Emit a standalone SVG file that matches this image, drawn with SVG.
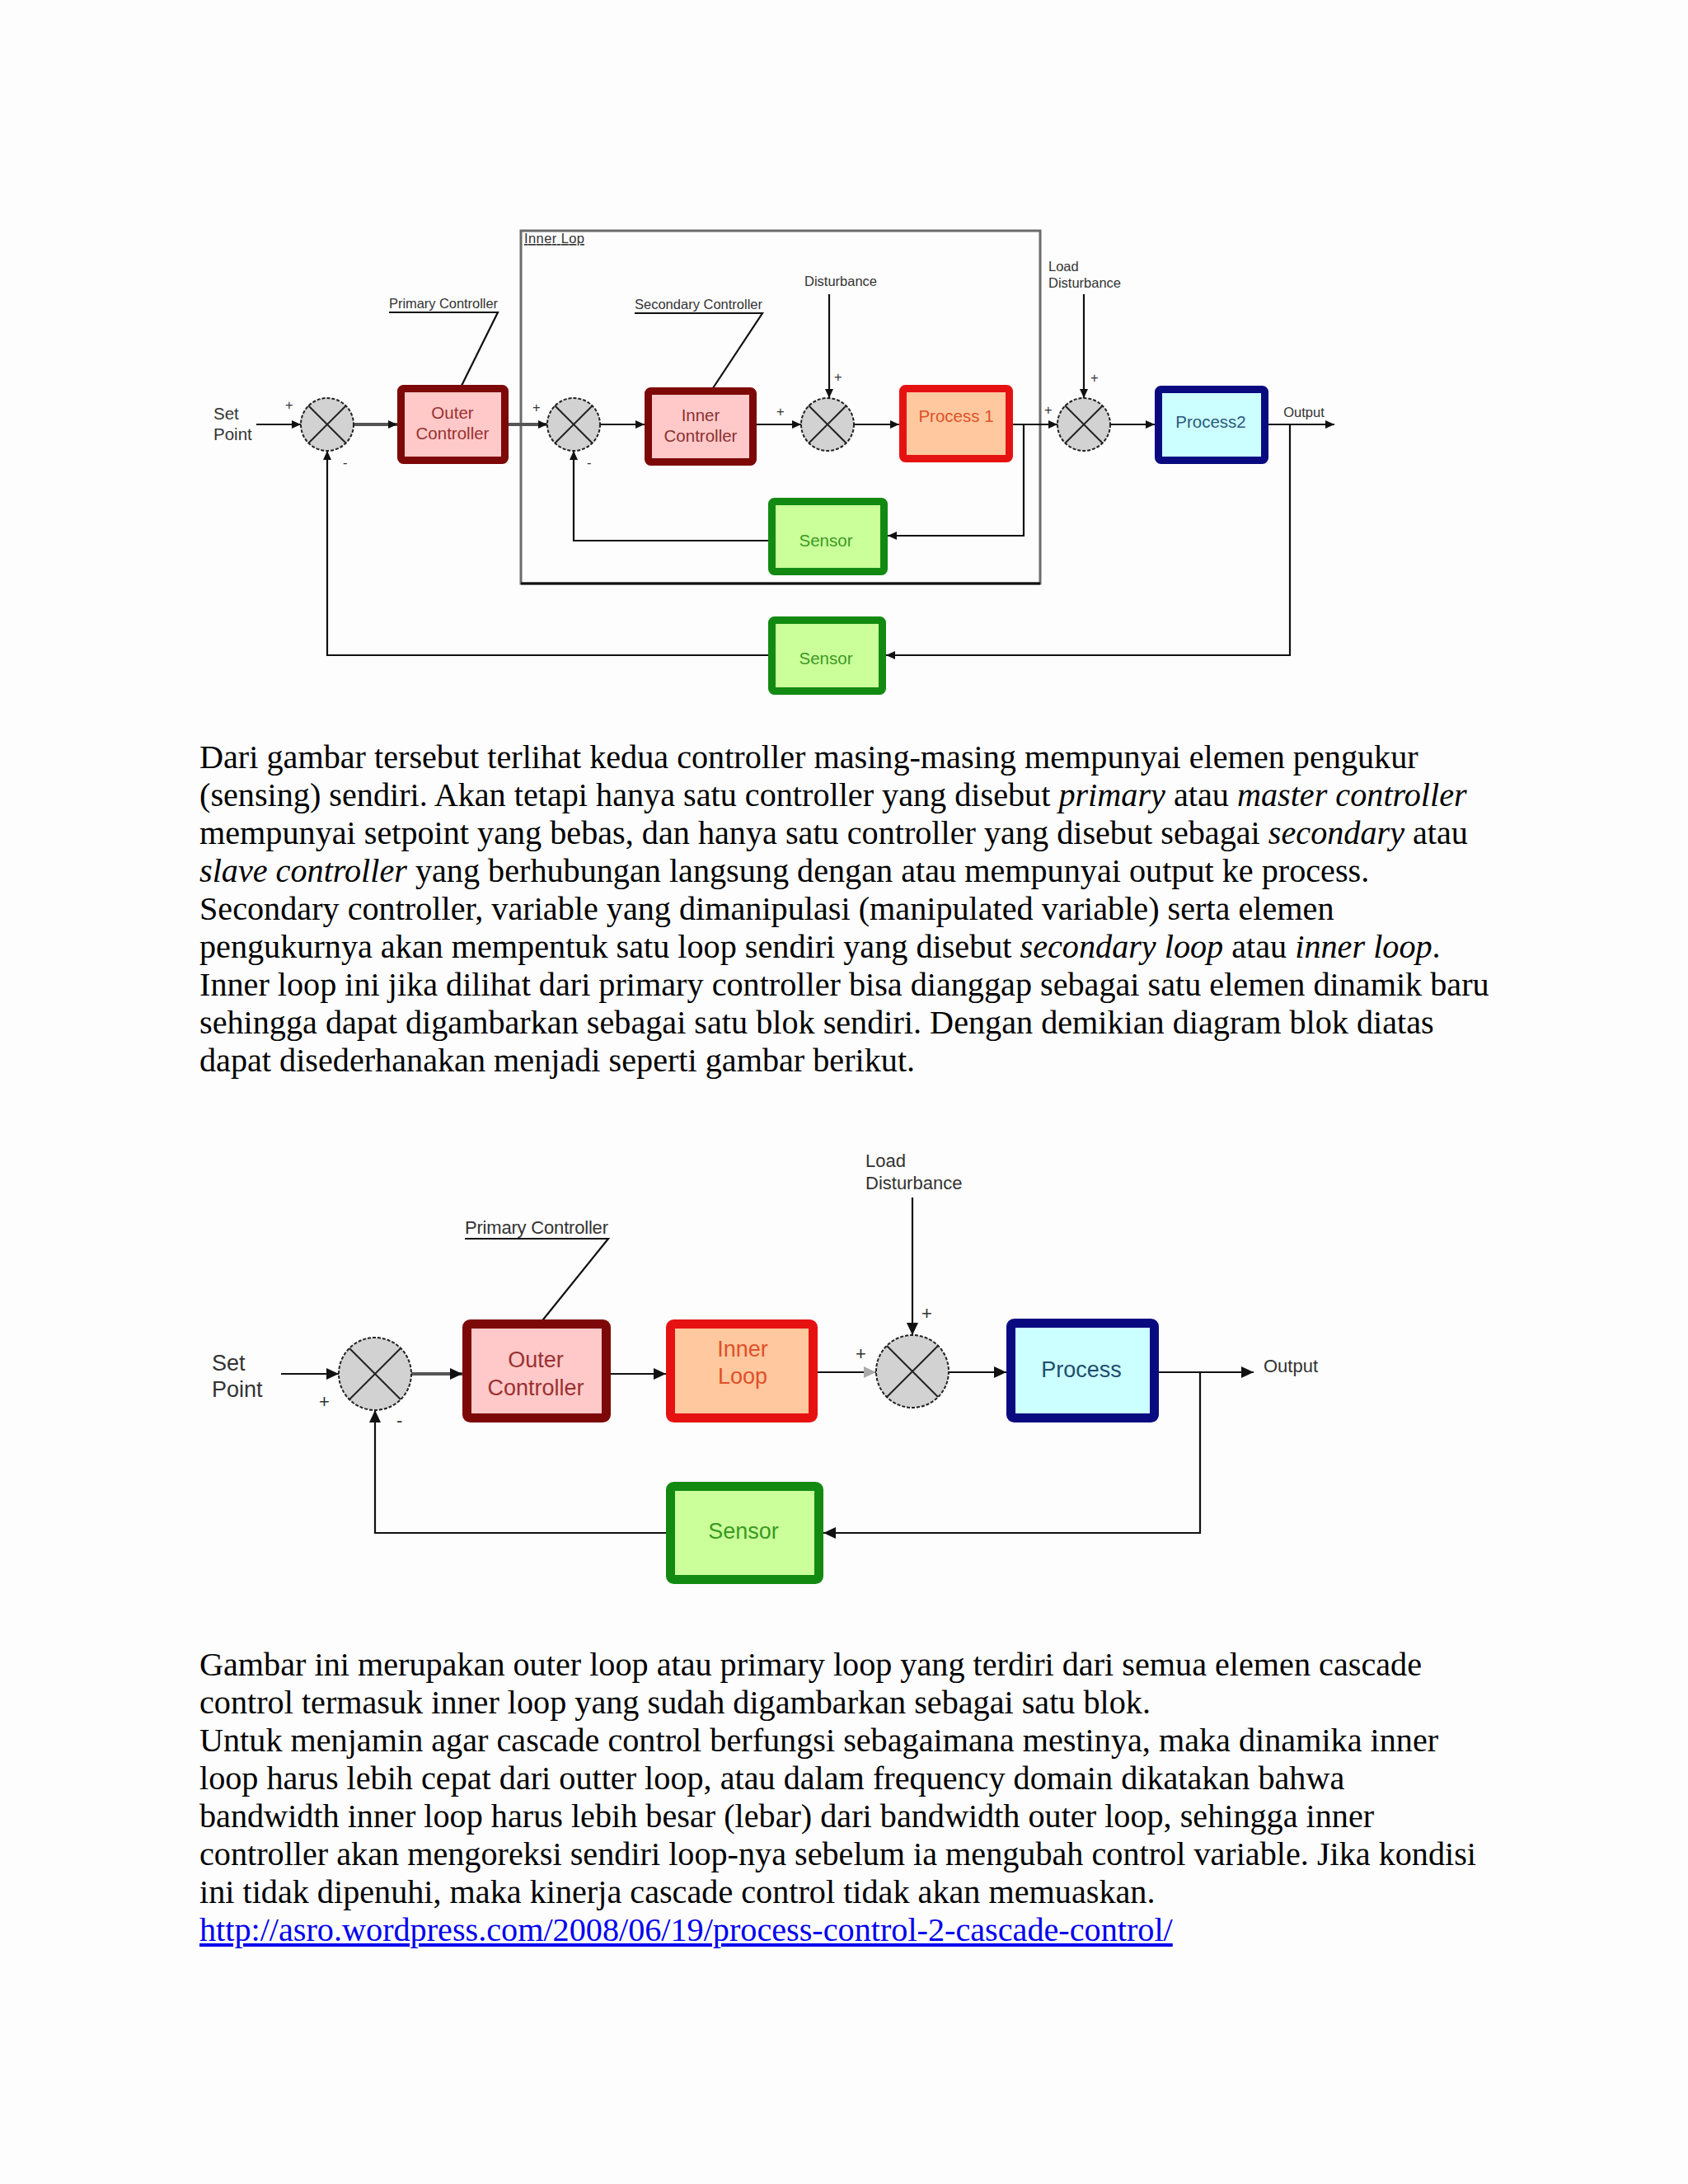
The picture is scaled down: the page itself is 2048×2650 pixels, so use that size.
<svg xmlns="http://www.w3.org/2000/svg" width="2048" height="2650" viewBox="0 0 2048 2650">
<style>
.lbl{font-family:"Liberation Sans",Arial,sans-serif;fill:#333}
.s{font-size:16.5px}
.m{font-size:20.5px}
.L{font-size:22px}
.XL{font-size:27px}
.c{text-anchor:middle}
.ln{fill:none;stroke:#111;stroke-width:2.2}
.gl{fill:none;stroke:#555;stroke-width:4}
.jn{fill:#d2d2d2;stroke:#222;stroke-width:2;stroke-dasharray:4 2}
.jx{stroke:#222;stroke-width:2}
.dr{fill:#ffc9c9;stroke:#7d0808}
.rd{fill:#ffc89e;stroke:#e61212}
.bl{fill:#ccffff;stroke:#0a0a80}
.gr{fill:#caff9a;stroke:#128a12}
.t1 rect{stroke-width:9}
.t2 rect{stroke-width:11}
.tx{font-family:"Liberation Serif","Times New Roman",serif;font-size:40.2px;fill:#000}
.i{font-style:italic}
</style>
<defs>
<marker id="a" markerUnits="userSpaceOnUse" markerWidth="11" markerHeight="10" refX="11" refY="5" orient="auto"><path d="M0,0 L11,5 L0,10 z" fill="#111"/></marker>
<marker id="b" markerUnits="userSpaceOnUse" markerWidth="15" markerHeight="14" refX="15" refY="7" orient="auto"><path d="M0,0 L15,7 L0,14 z" fill="#111"/></marker>
<marker id="bg" markerUnits="userSpaceOnUse" markerWidth="15" markerHeight="14" refX="15" refY="7" orient="auto"><path d="M0,0 L15,7 L0,14 z" fill="#aaa"/></marker>
</defs>
<rect width="2048" height="2650" fill="#fdfdfd"/>

<!-- ===== Top diagram ===== -->
<g id="innerLoopFrame">
<rect x="632" y="280" width="630" height="428" fill="none" stroke="#6c6c6c" stroke-width="3"/>
<line x1="632" y1="708" x2="1262" y2="708" stroke="#111" stroke-width="3"/>
<text class="lbl s" x="636" y="295" textLength="73" text-decoration="underline">Inner Lop</text>
</g>

<g id="top-connectors">
<path class="ln" d="M311,515 H365" marker-end="url(#a)"/>
<path class="gl" d="M429,515 H482" marker-end="url(#a)"/>
<path class="gl" d="M617,515 H664" marker-end="url(#a)"/>
<path class="ln" d="M728,515 H782" marker-end="url(#a)"/>
<path class="ln" d="M918,515 H972" marker-end="url(#a)"/>
<path class="ln" d="M1006,357 V483" marker-end="url(#a)"/>
<path class="ln" d="M1036,515 H1091" marker-end="url(#a)"/>
<path class="ln" d="M1229,515 H1283" marker-end="url(#a)"/>
<path class="ln" d="M1315,357 V483" marker-end="url(#a)"/>
<path class="ln" d="M1347,515 H1401" marker-end="url(#a)"/>
<path class="ln" d="M1539,515 H1619" marker-end="url(#a)"/>
<path class="ln" d="M1242,515 V650 H1077" stroke="#444" marker-end="url(#a)"/>
<path class="ln" d="M932,656 H696 V547" marker-end="url(#a)"/>
<path class="ln" d="M1565,515 V795 H1075" marker-end="url(#a)"/>
<path class="ln" d="M932,795 H397 V547" marker-end="url(#a)"/>
<path class="ln" d="M472,379 H604 L555,478" stroke="#333"/>
<path class="ln" d="M770,380 H925 L857,483" stroke="#333"/>
</g>

<g id="t-setpoint"><text class="lbl m" x="259" y="509">Set</text><text class="lbl m" x="259" y="534">Point</text></g>
<g id="t-primary-label"><text class="lbl s" x="472" y="374" textLength="132">Primary Controller</text></g>
<g id="t-secondary-label"><text class="lbl s" x="770" y="375" textLength="155">Secondary Controller</text></g>
<g id="t-disturbance"><text class="lbl s c" x="1020" y="347">Disturbance</text></g>
<g id="t-load"><text class="lbl s" x="1272" y="329">Load</text><text class="lbl s" x="1272" y="349">Disturbance</text></g>
<g id="t-output"><text class="lbl s c" x="1582" y="506">Output</text></g>

<g id="t-sum1"><circle class="jn" cx="397" cy="515" r="32"/><path class="jx" d="M374,492 L420,538 M420,492 L374,538"/>
<text class="lbl s" x="346" y="497">+</text><text class="lbl s" x="416" y="567">-</text></g>
<g id="t-sum2"><circle class="jn" cx="696" cy="515" r="32"/><path class="jx" d="M673,492 L719,538 M719,492 L673,538"/>
<text class="lbl s" x="646" y="500">+</text><text class="lbl s" x="712" y="567">-</text></g>
<g id="t-sum3"><circle class="jn" cx="1004" cy="515" r="32"/><path class="jx" d="M981,492 L1027,538 M1027,492 L981,538"/>
<text class="lbl s" x="942" y="505">+</text><text class="lbl s" x="1012" y="463">+</text></g>
<g id="t-sum4"><circle class="jn" cx="1315" cy="515" r="32"/><path class="jx" d="M1292,492 L1338,538 M1338,492 L1292,538"/>
<text class="lbl s" x="1267" y="503">+</text><text class="lbl s" x="1323" y="464">+</text></g>

<g id="t-outer" class="t1"><rect class="dr" x="486.5" y="471.5" width="126" height="87" rx="3"/>
<text class="lbl m c" x="549" y="508" style="fill:#9a3030">Outer</text><text class="lbl m c" x="549" y="533" style="fill:#9a3030">Controller</text></g>
<g id="t-inner" class="t1"><rect class="dr" x="786.5" y="474.5" width="127" height="86" rx="3"/>
<text class="lbl m c" x="850" y="511" style="fill:#8a3030">Inner</text><text class="lbl m c" x="850" y="536" style="fill:#8a3030">Controller</text></g>
<g id="t-process1" class="t1"><rect class="rd" x="1095.5" y="471.5" width="129" height="85" rx="3"/>
<text class="lbl m c" x="1160" y="512" style="fill:#e0502a">Process 1</text></g>
<g id="t-process2" class="t1"><rect class="bl" x="1405.5" y="472.5" width="129" height="86" rx="3"/>
<text class="lbl m c" x="1469" y="519" style="fill:#2a5a7a">Process2</text></g>
<g id="t-sensor1" class="t1"><rect class="gr" x="936.5" y="608.5" width="136" height="85" rx="3"/>
<text class="lbl m c" x="1002" y="663" style="fill:#3a9a22">Sensor</text></g>
<g id="t-sensor2" class="t1"><rect class="gr" x="936.5" y="752.5" width="134" height="86" rx="3"/>
<text class="lbl m c" x="1002" y="806" style="fill:#3a9a22">Sensor</text></g>

<!-- ===== Paragraph 1 ===== -->
<g id="para1" class="tx">
<text x="242" y="932">Dari gambar tersebut terlihat kedua controller masing-masing mempunyai elemen pengukur</text>
<text x="242" y="978" xml:space="preserve">(sensing) sendiri. Akan tetapi hanya satu controller yang disebut <tspan class="i">primary</tspan> atau <tspan class="i">master controller</tspan></text>
<text x="242" y="1024" xml:space="preserve">mempunyai setpoint yang bebas, dan hanya satu controller yang disebut sebagai <tspan class="i">secondary</tspan> atau</text>
<text x="242" y="1070" xml:space="preserve"><tspan class="i">slave controller</tspan> yang berhubungan langsung dengan atau mempunyai output ke process.</text>
<text x="242" y="1116">Secondary controller, variable yang dimanipulasi (manipulated variable) serta elemen</text>
<text x="242" y="1162" xml:space="preserve">pengukurnya akan mempentuk satu loop sendiri yang disebut <tspan class="i">secondary loop</tspan> atau <tspan class="i">inner loop</tspan>.</text>
<text x="242" y="1208">Inner loop ini jika dilihat dari primary controller bisa dianggap sebagai satu elemen dinamik baru</text>
<text x="242" y="1254">sehingga dapat digambarkan sebagai satu blok sendiri. Dengan demikian diagram blok diatas</text>
<text x="242" y="1300">dapat disederhanakan menjadi seperti gambar berikut.</text>
</g>

<!-- ===== Bottom diagram ===== -->
<g id="bottom-connectors">
<path class="ln" d="M341,1667 H411" stroke-width="3" marker-end="url(#b)"/>
<path class="gl" d="M499,1667 H561" marker-end="url(#b)"/>
<path class="ln" d="M741,1667 H808" stroke-width="3.5" marker-end="url(#b)"/>
<path class="ln" d="M992,1665 H1063" stroke="#aaa" marker-end="url(#bg)"/>
<path class="ln" d="M1107,1453 V1620" stroke-width="2.5" marker-end="url(#b)"/>
<path class="ln" d="M1151,1665 H1221" stroke-width="2.5" marker-end="url(#b)"/>
<path class="ln" d="M1406,1665 H1521" stroke-width="2.5" marker-end="url(#b)"/>
<path class="ln" d="M1456,1665 V1860 H999" stroke-width="2.5" stroke="#444" marker-end="url(#b)"/>
<path class="ln" d="M808,1860 H455 V1711" stroke-width="2.5" marker-end="url(#b)"/>
<path class="ln" d="M564,1503 H738 L647,1616" stroke="#333"/>
</g>

<g id="b-setpoint"><text class="lbl XL" x="257" y="1663">Set</text><text class="lbl XL" x="257" y="1695">Point</text></g>
<g id="b-primary-label"><text class="lbl L" x="564" y="1497" textLength="174">Primary Controller</text></g>
<g id="b-load"><text class="lbl L" x="1050" y="1416">Load</text><text class="lbl L" x="1050" y="1443">Disturbance</text></g>
<g id="b-output"><text class="lbl L" x="1533" y="1665">Output</text></g>

<g id="b-sum1"><circle class="jn" cx="455" cy="1667" r="44"/><path class="jx" d="M424,1636 L486,1698 M486,1636 L424,1698"/>
<text class="lbl L" x="387" y="1708">+</text><text class="lbl L" x="481" y="1731">-</text></g>
<g id="b-sum2"><circle class="jn" cx="1107" cy="1664" r="44"/><path class="jx" d="M1076,1633 L1138,1695 M1138,1633 L1076,1695"/>
<text class="lbl L" x="1038" y="1650">+</text><text class="lbl L" x="1118" y="1601">+</text></g>

<g id="b-outer" class="t2"><rect class="dr" x="566.5" y="1606.5" width="169" height="114" rx="4"/>
<text class="lbl XL c" x="650" y="1659" style="fill:#9a3030">Outer</text><text class="lbl XL c" x="650" y="1693" style="fill:#9a3030">Controller</text></g>
<g id="b-innerloop" class="t2"><rect class="rd" x="813.5" y="1606.5" width="173" height="114" rx="4"/>
<text class="lbl XL c" x="901" y="1646" style="fill:#e0502a">Inner</text><text class="lbl XL c" x="901" y="1679" style="fill:#e0502a">Loop</text></g>
<g id="b-process" class="t2"><rect class="bl" x="1226.5" y="1605.5" width="174" height="115" rx="4"/>
<text class="lbl XL c" x="1312" y="1671" style="fill:#1e4e6e">Process</text></g>
<g id="b-sensor" class="t2"><rect class="gr" x="813.5" y="1803.5" width="180" height="113" rx="4"/>
<text class="lbl XL c" x="902" y="1867" style="fill:#3a9a22">Sensor</text></g>

<!-- ===== Paragraph 2 ===== -->
<g id="para2" class="tx">
<text x="242" y="2033">Gambar ini merupakan outer loop atau primary loop yang terdiri dari semua elemen cascade</text>
<text x="242" y="2079">control termasuk inner loop yang sudah digambarkan sebagai satu blok.</text>
<text x="242" y="2125">Untuk menjamin agar cascade control berfungsi sebagaimana mestinya, maka dinamika inner</text>
<text x="242" y="2171">loop harus lebih cepat dari outter loop, atau dalam frequency domain dikatakan bahwa</text>
<text x="242" y="2217">bandwidth inner loop harus lebih besar (lebar) dari bandwidth outer loop, sehingga inner</text>
<text x="242" y="2263">controller akan mengoreksi sendiri loop-nya sebelum ia mengubah control variable. Jika kondisi</text>
<text x="242" y="2309">ini tidak dipenuhi, maka kinerja cascade control tidak akan memuaskan.</text>
<text x="242" y="2355" style="fill:#0000ee" text-decoration="underline">http://asro.wordpress.com/2008/06/19/process-control-2-cascade-control/</text>
</g>
</svg>
